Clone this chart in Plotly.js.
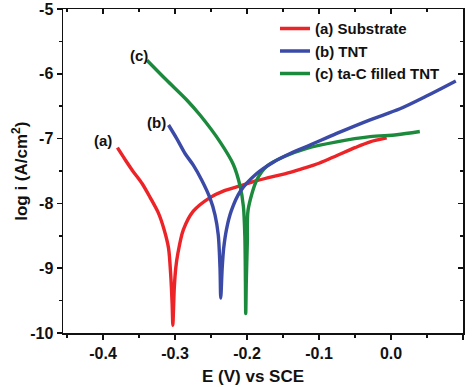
<!DOCTYPE html>
<html>
<head>
<meta charset="utf-8">
<script src="https://cdn.plot.ly/plotly-3.0.1.min.js"></script>
<style>html,body{margin:0;padding:0;background:#fff;}#plot{width:474px;height:387px;}</style>
</head>
<body>
<div id="plot"></div>
<script>
// (a) Substrate
const subE = [-0.380, -0.369, -0.358, -0.346, -0.335, -0.323, -0.315, -0.309, -0.306, -0.304, -0.303, -0.302, -0.301, -0.299, -0.296, -0.2885, -0.2746, -0.2514, -0.233, -0.2097, -0.1865, -0.140, -0.122, -0.100, -0.075, -0.050, -0.029, -0.006];
const subLogI = [-7.14, -7.33, -7.51, -7.69, -7.90, -8.15, -8.41, -8.69, -9.10, -9.55, -9.88, -9.60, -9.30, -9.00, -8.77, -8.41, -8.12, -7.91, -7.81, -7.73, -7.65, -7.52, -7.46, -7.38, -7.26, -7.14, -7.05, -6.99];
// (b) TNT
const tntE = [-0.309, -0.2976, -0.2861, -0.2746, -0.263, -0.2514, -0.2444, -0.2399, -0.2375, -0.2365, -0.2345, -0.2325, -0.2285, -0.222, -0.2097, -0.1865, -0.163, -0.140, -0.1125, -0.0754, -0.029, 0.0125, 0.050, 0.090];
const tntLogI = [-6.79, -7.00, -7.23, -7.41, -7.64, -7.92, -8.18, -8.49, -9.00, -9.46, -9.00, -8.70, -8.40, -8.12, -7.82, -7.54, -7.36, -7.23, -7.10, -6.92, -6.71, -6.54, -6.34, -6.11];
// (c) ta-C filled TNT
const tacE = [-0.339, -0.3115, -0.284, -0.265, -0.2375, -0.219, -0.2097, -0.205, -0.203, -0.2022, -0.2018, -0.2010, -0.1996, -0.1985, -0.1865, -0.173, -0.149, -0.117, -0.0754, -0.029, 0.008, 0.040];
const tacLogI = [-5.79, -6.10, -6.40, -6.64, -7.05, -7.40, -7.73, -8.05, -8.51, -9.20, -9.70, -9.20, -8.60, -8.10, -7.64, -7.43, -7.28, -7.15, -7.05, -6.97, -6.94, -6.89];

const seriesNames = ['(a) Substrate', '(b) TNT', '(c) ta-C filled TNT'];
const curveLabels = ['(a)', '(b)', '(c)'];
const xTickVals = [-0.4, -0.3, -0.2, -0.1, 0.0, 0.1];
const xTickText = ['-0.4', '-0.3', '-0.2', '-0.1', '0.0', '0.1'];
const yTickVals = [-10, -9, -8, -7, -6, -5];
const yTickText = ['-10', '-9', '-8', '-7', '-6', '-5'];

const colors = ['#ec2327', '#3a4aa6', '#1b8a3c'];
const xs = [subE, tntE, tacE];
const ys = [subLogI, tntLogI, tacLogI];
// axis pairs (all share identical ranges) so that the mirrored top/right axes get drawn
const axPairs = [['x', 'y'], ['x2', 'y'], ['x', 'y2']];

const traces = xs.map((x, i) => ({
  x: x, y: ys[i], type: 'scatter', mode: 'lines', name: seriesNames[i],
  xaxis: axPairs[i][0], yaxis: axPairs[i][1],
  line: {color: colors[i], width: 3.4, shape: 'spline', smoothing: 0.8}
}));

const font = {family: 'Liberation Sans, Arial, sans-serif', color: '#111', weight: 'bold'};
const xr = [-0.4556, 0.1];
const yr = [-10, -5];

const annotations = [
  {text: 'E (V) vs SCE', xref: 'paper', yref: 'paper', x: 0.475, y: -0.133, showarrow: false, font: Object.assign({}, font, {size: 17}), xanchor: 'center', yanchor: 'middle'},
  {text: 'log i (A/cm<sup>2</sup>)', xref: 'paper', yref: 'paper', x: -0.108, y: 0.5, textangle: -90, showarrow: false, font: Object.assign({}, font, {size: 17}), xanchor: 'center', yanchor: 'middle'}
];
const labelShift = [[-14, 7], [-12, 2], [-8, 5]];
curveLabels.forEach((t, i) => {
  annotations.push({text: t, x: xs[i][0], y: ys[i][0], xref: 'x', yref: 'y', showarrow: false,
    xanchor: 'center', yanchor: 'middle', xshift: labelShift[i][0], yshift: labelShift[i][1],
    font: Object.assign({}, font, {size: 15})});
});

const tickStyle = {tickwidth: 1.5, tickcolor: '#111', showline: true, linewidth: 1.5, linecolor: '#111', showgrid: false, zeroline: false};

const layout = {
  width: 474, height: 387,
  margin: {l: 63, r: 11, t: 9, b: 54},
  paper_bgcolor: '#fff', plot_bgcolor: '#fff',
  showlegend: true,
  legend: {x: 0.53, y: 0.99, xanchor: 'left', yanchor: 'top', bgcolor: 'rgba(0,0,0,0)',
    font: Object.assign({}, font, {size: 15}), tracegroupgap: 0, itemwidth: 30},
  xaxis: Object.assign({range: xr, tickvals: xTickVals, ticktext: xTickText, ticks: 'outside', ticklen: 5,
    tickfont: Object.assign({}, font, {size: 16}),
    minor: {dtick: 0.05, tick0: 0, ticks: 'outside', ticklen: 3, tickwidth: 1.5, tickcolor: '#111'}}, tickStyle),
  yaxis: Object.assign({range: yr, tickvals: yTickVals, ticktext: yTickText, ticks: 'outside', ticklen: 5,
    tickfont: Object.assign({}, font, {size: 16}),
    minor: {dtick: 0.5, tick0: 0, ticks: 'outside', ticklen: 3, tickwidth: 1.5, tickcolor: '#111'}}, tickStyle),
  xaxis2: Object.assign({overlaying: 'x', side: 'top', anchor: 'y', range: xr, tickvals: xTickVals, showticklabels: false,
    ticks: 'inside', ticklen: 5,
    minor: {dtick: 0.05, tick0: 0, ticks: 'inside', ticklen: 3, tickwidth: 1.5, tickcolor: '#111'}}, tickStyle),
  yaxis2: Object.assign({overlaying: 'y', side: 'right', anchor: 'x', range: yr, tickvals: yTickVals, showticklabels: false,
    ticks: 'inside', ticklen: 5,
    minor: {dtick: 0.5, tick0: 0, ticks: 'inside', ticklen: 3, tickwidth: 1.5, tickcolor: '#111'}}, tickStyle),
  annotations: annotations
};

Plotly.newPlot('plot', traces, layout, {displayModeBar: false, staticPlot: true});
</script>
</body>
</html>
